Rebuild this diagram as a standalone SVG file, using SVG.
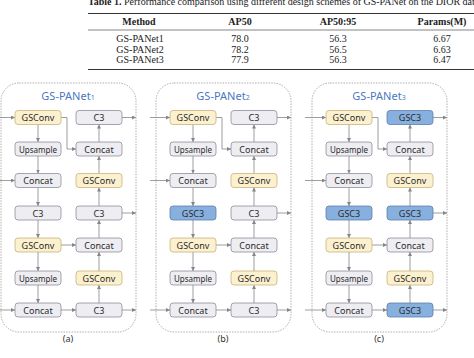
<svg xmlns="http://www.w3.org/2000/svg" width="474" height="358" viewBox="0 0 474 358">
<defs>
<style>
.tb{font-family:"Liberation Serif",serif;font-size:10px;fill:#222;text-anchor:middle}
.tbh{font-weight:bold}
.panel{fill:#fff;stroke:#9a9a9a;stroke-width:0.8;stroke-dasharray:1.5 1.2}
.ttl{font-family:"Noto Sans",sans-serif;font-size:11px;fill:#4a78c0;text-anchor:middle}
.cap{font-family:"Noto Sans",sans-serif;font-size:9px;fill:#333;text-anchor:middle}
.n rect{rx:3;stroke-width:0.8}
.g rect{fill:#ededf2;stroke:#8e8e9c}
.y rect{fill:#fcf1cf;stroke:#c9b37c}
.b rect{fill:#88b0de;stroke:#5b7fab}
.n text{font-family:"Noto Sans",sans-serif;font-size:9px;fill:#2a2a2a;text-anchor:middle;dominant-baseline:central}
.n text.s{font-size:8px}
.c path{fill:none;stroke:#858585;stroke-width:0.8;marker-end:url(#ah)}
</style>
<marker id="ah" viewBox="0 0 6 6" refX="6" refY="3" markerWidth="4" markerHeight="4" orient="auto" markerUnits="userSpaceOnUse">
<path d="M0,0 L6,3 L0,6 Z" fill="#858585"/>
</marker>
</defs>
<rect width="474" height="358" fill="#fff"/>

<g id="table">
<text x="88" y="5" style="font-family:'Liberation Serif',serif;font-size:10px;fill:#222"><tspan font-weight="bold">Table 1.</tspan> Performance comparison using different design schemes of GS-PANet on the DIOR dataset.</text>
<line x1="88" y1="13.5" x2="474" y2="13.5" stroke="#333" stroke-width="1.2"/>
<line x1="88" y1="30" x2="474" y2="30" stroke="#333" stroke-width="0.6"/>
<line x1="88" y1="69.5" x2="474" y2="69.5" stroke="#333" stroke-width="1.2"/>
<text class="tb tbh" x="139" y="25">Method</text>
<text class="tb tbh" x="240" y="25">AP50</text>
<text class="tb tbh" x="338" y="25">AP50:95</text>
<text class="tb tbh" x="442" y="25">Params(M)</text>
<text class="tb" x="140" y="42">GS-PANet1</text>
<text class="tb" x="240" y="42">78.0</text>
<text class="tb" x="338" y="42">56.3</text>
<text class="tb" x="442" y="42">6.67</text>
<text class="tb" x="140" y="52.5">GS-PANet2</text>
<text class="tb" x="240" y="52.5">78.2</text>
<text class="tb" x="338" y="52.5">56.5</text>
<text class="tb" x="442" y="52.5">6.63</text>
<text class="tb" x="140" y="63">GS-PANet3</text>
<text class="tb" x="240" y="63">77.9</text>
<text class="tb" x="338" y="63">56.3</text>
<text class="tb" x="442" y="63">6.47</text>
</g>

<!-- Panel a -->
<g id="panel-a" transform="translate(0,0)">
<rect class="panel" x="1" y="83" width="135" height="249" rx="18"/>
<text class="ttl" x="68" y="100">GS-PANet<tspan font-size="7">1</tspan></text>
<text class="cap" x="68" y="342">(a)</text>
<g class="c" id="conn-a">
<path d="M0 117.5H15"/><path d="M0 180.5H15"/><path d="M0 310H15"/>
<path d="M122 117.5H136"/><path d="M122 213H136"/><path d="M122 310H136"/>
<path d="M38 124.5V142"/><path d="M38 156V173.5"/><path d="M38 187.5V206"/><path d="M38 220V238"/><path d="M38 252V271"/><path d="M38 285V303"/>
<path d="M99 303V285"/><path d="M99 271V252"/><path d="M99 238V220"/><path d="M99 206V187.5"/><path d="M99 173.5V156"/><path d="M99 142V124.5"/>
<path d="M61 117.5H67V149H76"/><path d="M61 245H76"/><path d="M61 310H76"/>
</g>
<g id="a-l0" class="n y"><rect x="15" y="110.5" width="46" height="14"/><text x="38" y="117.5">GSConv</text></g>
<g id="a-l1" class="n g"><rect x="15" y="142" width="46" height="14"/><text class="s" x="38" y="149">Upsample</text></g>
<g id="a-l2" class="n g"><rect x="15" y="173.5" width="46" height="14"/><text x="38" y="180.5">Concat</text></g>
<g id="a-l3" class="n g"><rect x="15" y="206" width="46" height="14"/><text x="38" y="213">C3</text></g>
<g id="a-l4" class="n y"><rect x="15" y="238" width="46" height="14"/><text x="38" y="245">GSConv</text></g>
<g id="a-l5" class="n g"><rect x="15" y="271" width="46" height="14"/><text class="s" x="38" y="278">Upsample</text></g>
<g id="a-l6" class="n g"><rect x="15" y="303" width="46" height="14"/><text x="38" y="310">Concat</text></g>
<g id="a-r0" class="n g"><rect x="76" y="110.5" width="46" height="14"/><text x="99" y="117.5">C3</text></g>
<g id="a-r1" class="n g"><rect x="76" y="142" width="46" height="14"/><text x="99" y="149">Concat</text></g>
<g id="a-r2" class="n y"><rect x="76" y="173.5" width="46" height="14"/><text x="99" y="180.5">GSConv</text></g>
<g id="a-r3" class="n g"><rect x="76" y="206" width="46" height="14"/><text x="99" y="213">C3</text></g>
<g id="a-r4" class="n g"><rect x="76" y="238" width="46" height="14"/><text x="99" y="245">Concat</text></g>
<g id="a-r5" class="n y"><rect x="76" y="271" width="46" height="14"/><text x="99" y="278">GSConv</text></g>
<g id="a-r6" class="n g"><rect x="76" y="303" width="46" height="14"/><text x="99" y="310">C3</text></g>
</g>

<!-- Panel b -->
<g id="panel-b" transform="translate(155,0)">
<rect class="panel" x="1" y="83" width="135" height="249" rx="18"/>
<text class="ttl" x="68" y="100">GS-PANet<tspan font-size="7">2</tspan></text>
<text class="cap" x="68" y="342">(b)</text>
<g class="c" id="conn-b">
<path d="M-5 117.5H15"/><path d="M-5 180.5H15"/><path d="M-5 310H15"/>
<path d="M122 117.5H136"/><path d="M122 213H136"/><path d="M122 310H136"/>
<path d="M38 124.5V142"/><path d="M38 156V173.5"/><path d="M38 187.5V206"/><path d="M38 220V238"/><path d="M38 252V271"/><path d="M38 285V303"/>
<path d="M99 303V285"/><path d="M99 271V252"/><path d="M99 238V220"/><path d="M99 206V187.5"/><path d="M99 173.5V156"/><path d="M99 142V124.5"/>
<path d="M61 117.5H67V149H76"/><path d="M61 245H76"/><path d="M61 310H76"/>
</g>
<g id="b-l0" class="n y"><rect x="15" y="110.5" width="46" height="14"/><text x="38" y="117.5">GSConv</text></g>
<g id="b-l1" class="n g"><rect x="15" y="142" width="46" height="14"/><text class="s" x="38" y="149">Upsample</text></g>
<g id="b-l2" class="n g"><rect x="15" y="173.5" width="46" height="14"/><text x="38" y="180.5">Concat</text></g>
<g id="b-l3" class="n b"><rect x="15" y="206" width="46" height="14"/><text x="38" y="213">GSC3</text></g>
<g id="b-l4" class="n y"><rect x="15" y="238" width="46" height="14"/><text x="38" y="245">GSConv</text></g>
<g id="b-l5" class="n g"><rect x="15" y="271" width="46" height="14"/><text class="s" x="38" y="278">Upsample</text></g>
<g id="b-l6" class="n g"><rect x="15" y="303" width="46" height="14"/><text x="38" y="310">Concat</text></g>
<g id="b-r0" class="n g"><rect x="76" y="110.5" width="46" height="14"/><text x="99" y="117.5">C3</text></g>
<g id="b-r1" class="n g"><rect x="76" y="142" width="46" height="14"/><text x="99" y="149">Concat</text></g>
<g id="b-r2" class="n y"><rect x="76" y="173.5" width="46" height="14"/><text x="99" y="180.5">GSConv</text></g>
<g id="b-r3" class="n g"><rect x="76" y="206" width="46" height="14"/><text x="99" y="213">C3</text></g>
<g id="b-r4" class="n g"><rect x="76" y="238" width="46" height="14"/><text x="99" y="245">Concat</text></g>
<g id="b-r5" class="n y"><rect x="76" y="271" width="46" height="14"/><text x="99" y="278">GSConv</text></g>
<g id="b-r6" class="n g"><rect x="76" y="303" width="46" height="14"/><text x="99" y="310">C3</text></g>
</g>

<!-- Panel c -->
<g id="panel-c" transform="translate(311,0)">
<rect class="panel" x="1" y="83" width="135" height="249" rx="18"/>
<text class="ttl" x="68" y="100">GS-PANet<tspan font-size="7">3</tspan></text>
<text class="cap" x="68" y="342">(c)</text>
<g class="c" id="conn-c">
<path d="M-6 117.5H15"/><path d="M-6 180.5H15"/><path d="M-6 310H15"/>
<path d="M122 117.5H136"/><path d="M122 213H136"/><path d="M122 310H136"/>
<path d="M38 124.5V142"/><path d="M38 156V173.5"/><path d="M38 187.5V206"/><path d="M38 220V238"/><path d="M38 252V271"/><path d="M38 285V303"/>
<path d="M99 303V285"/><path d="M99 271V252"/><path d="M99 238V220"/><path d="M99 206V187.5"/><path d="M99 173.5V156"/><path d="M99 142V124.5"/>
<path d="M61 117.5H67V149H76"/><path d="M61 245H76"/><path d="M61 310H76"/>
</g>
<g id="c-l0" class="n y"><rect x="15" y="110.5" width="46" height="14"/><text x="38" y="117.5">GSConv</text></g>
<g id="c-l1" class="n g"><rect x="15" y="142" width="46" height="14"/><text class="s" x="38" y="149">Upsample</text></g>
<g id="c-l2" class="n g"><rect x="15" y="173.5" width="46" height="14"/><text x="38" y="180.5">Concat</text></g>
<g id="c-l3" class="n b"><rect x="15" y="206" width="46" height="14"/><text x="38" y="213">GSC3</text></g>
<g id="c-l4" class="n y"><rect x="15" y="238" width="46" height="14"/><text x="38" y="245">GSConv</text></g>
<g id="c-l5" class="n g"><rect x="15" y="271" width="46" height="14"/><text class="s" x="38" y="278">Upsample</text></g>
<g id="c-l6" class="n g"><rect x="15" y="303" width="46" height="14"/><text x="38" y="310">Concat</text></g>
<g id="c-r0" class="n b"><rect x="76" y="110.5" width="46" height="14"/><text x="99" y="117.5">GSC3</text></g>
<g id="c-r1" class="n g"><rect x="76" y="142" width="46" height="14"/><text x="99" y="149">Concat</text></g>
<g id="c-r2" class="n y"><rect x="76" y="173.5" width="46" height="14"/><text x="99" y="180.5">GSConv</text></g>
<g id="c-r3" class="n b"><rect x="76" y="206" width="46" height="14"/><text x="99" y="213">GSC3</text></g>
<g id="c-r4" class="n g"><rect x="76" y="238" width="46" height="14"/><text x="99" y="245">Concat</text></g>
<g id="c-r5" class="n y"><rect x="76" y="271" width="46" height="14"/><text x="99" y="278">GSConv</text></g>
<g id="c-r6" class="n b"><rect x="76" y="303" width="46" height="14"/><text x="99" y="310">GSC3</text></g>
</g>
</svg>
